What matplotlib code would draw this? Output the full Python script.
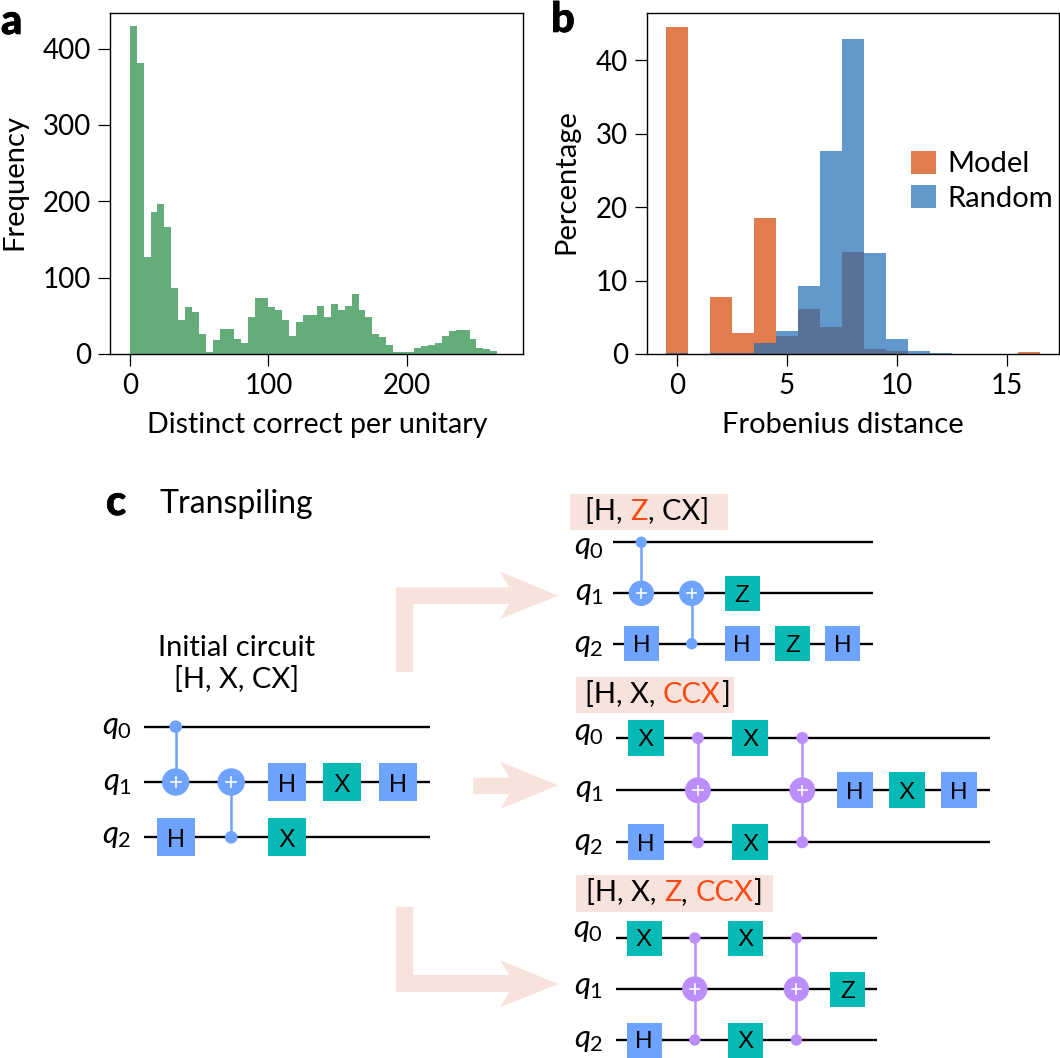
import matplotlib
matplotlib.use("Agg")
import matplotlib.pyplot as plt
import matplotlib.patheffects as pe
from matplotlib.font_manager import FontProperties
from matplotlib.patches import Rectangle, Circle, Polygon
import numpy as np

# ---------- data ----------
unitary_bin_edges = list(range(0, 270, 5))
unitary_counts = [429, 381, 127, 186, 197, 166, 87, 45, 61, 55, 26, 2, 18, 33, 33, 20, 14, 48,
                  73, 74, 61, 57, 45, 24, 42, 51, 51, 63, 48, 65, 57, 63, 78, 57, 49, 26, 22,
                  12, 2, 2, 2, 8, 10, 12, 14, 24, 30, 32, 32, 20, 8, 6, 4]
frob_bins = list(range(0, 17))
model_pct = [44.5, 0, 7.7, 2.9, 18.5, 2.5, 6.1, 3.7, 13.85, 0.65, 0.45, 0, 0, 0, 0, 0, 0.25]
random_pct = [0.2, 0, 0.2, 0.2, 1.45, 3.1, 9.2, 27.6, 42.9, 13.7, 2.1, 0.45, 0.2, 0, 0, 0, 0]
a_xticks = [0, 100, 200]
a_yticks = [0, 100, 200, 300, 400]
b_xticks = [0, 5, 10, 15]
b_yticks = [0, 10, 20, 30, 40]

# circuits: gates (label, column, qubit); controlled (column, target, [controls])
init_gates = [("H", 0, 2), ("H", 2, 1), ("X", 2, 2), ("X", 3, 1), ("H", 4, 1)]
init_ctrl = [(0, 1, [0]), (1, 1, [2])]
z_gates = [("H", 0, 2), ("Z", 2, 1), ("H", 2, 2), ("Z", 3, 2), ("H", 4, 2)]
z_ctrl = [(0, 1, [0]), (1, 1, [2])]
ccx_gates = [("X", 0, 0), ("H", 0, 2), ("X", 2, 0), ("X", 2, 2), ("H", 4, 1), ("X", 5, 1), ("H", 6, 1)]
ccx_ctrl = [(1, 1, [0, 2]), (3, 1, [0, 2])]
zccx_gates = [("X", 0, 0), ("H", 0, 2), ("X", 2, 0), ("X", 2, 2), ("Z", 4, 1)]
zccx_ctrl = [(1, 1, [0, 2]), (3, 1, [0, 2])]

# ---------- style ----------
W, H = 1060, 1058
FONT = "Lato"
plt.rcParams["font.family"] = [FONT, "DejaVu Sans"]
plt.rcParams["mathtext.fontset"] = "custom"
plt.rcParams["mathtext.it"] = "Lato:italic"
plt.rcParams["mathtext.rm"] = "Lato"
plt.rcParams["axes.linewidth"] = 1.0
FS = 21
TICK_FS = 20
GREEN, ORANGE, BLUE = "#64AD7B", "#D74500", "#1F6DB6"
HCOL, XCOL, PURPLE = "#6EA3FF", "#05BAB5", "#BB8EFC"
PEACH, RED = "#F8E3DC", "#FF4A14"

fig = plt.figure(figsize=(W / 100, H / 100), dpi=100)


def px_axes(l, t, r, b):
    return fig.add_axes([l / W, 1 - b / H, (r - l) / W, (b - t) / H])


def style(ax):
    ax.tick_params(length=8.5, width=0.9, labelsize=TICK_FS, pad=5)
    ax.margins(0)


# ---------- panel a ----------
axa = px_axes(110, 13, 523, 354)
axa.bar(unitary_bin_edges[:-1], unitary_counts, width=5, align="edge", color=GREEN)
axa.set_xlim((110 - 129.7) / 1.387, (523 - 129.7) / 1.387)
axa.set_ylim(0, (354 - 13) / 0.7635)
axa.set_xticks(a_xticks)
axa.set_yticks(a_yticks)
style(axa)

# ---------- panel b ----------
axb = px_axes(647, 13, 1059, 354)
edges = np.array(frob_bins) - 0.5
axb.bar(edges, model_pct, width=1, align="edge", color=ORANGE, alpha=0.7, label="Model")
axb.bar(edges, random_pct, width=1, align="edge", color=BLUE, alpha=0.7, label="Random")
axb.set_xlim((647 - 676.7) / 22.04, (1059 - 676.7) / 22.04)
axb.set_ylim(0, (354 - 13) / 7.34)
axb.set_xticks(b_xticks)
axb.set_yticks(b_yticks)
style(axb)
axb.legend(frameon=False, loc="upper left", bbox_to_anchor=(911 / W, 1 - 151 / H),
           bbox_transform=fig.transFigure, fontsize=FS, handlelength=0.857, handleheight=0.82,
           handletextpad=0.38, labelspacing=0.27, borderpad=0, borderaxespad=0)

# ---------- schematic layer (pixel coordinates of the figure) ----------
ov = fig.add_axes([0, 0, 1, 1])
ov.set_xlim(0, W)
ov.set_ylim(H, 0)
ov.axis("off")
ov.patch.set_alpha(0)


def t(x, y, s, **k):
    k.setdefault("fontsize", FS)
    k.setdefault("va", "center")
    return ov.text(x, y, s, **k)


t(14, 182, "Frequency", rotation=90, ha="center")
t(566, 182, "Percentage", rotation=90, ha="center")
t(317, 425, "Distinct correct per unitary", ha="center", fontsize=20.6)
t(843, 425, "Frobenius distance", ha="center")
for x, y, s in [(1, 22, "a"), (551, 20, "b"), (106, 503, "c")]:
    t(x, y, s, fontsize=30, fontweight="black", ha="left",
      path_effects=[pe.withStroke(linewidth=0.5, foreground="black")])
t(160, 504, "Transpiling", ha="left", fontsize=23)
t(237, 648, "Initial circuit", ha="center")
t(237, 679, "[H, X, CX]", ha="center")

# arrows
arrows = [
    [(396, 672), (396, 587.3), (509.3, 587.3), (500, 571.7), (558.3, 595.7), (500, 619), (509.3, 604), (413.3, 604), (413.3, 672)],
    [(473.3, 777.7), (509.3, 777.7), (500, 761.7), (558.3, 785.3), (500, 809), (509.3, 794), (473.3, 794)],
    [(396, 906.7), (413.3, 906.7), (413.3, 975), (509.3, 975), (500, 960), (558.3, 984), (500, 1007.3), (509.3, 992), (396, 992)],
]
for pts in arrows:
    ov.add_patch(Polygon(pts, closed=True, fc=PEACH, ec="none"))


def draw_circuit(gates, ctrl, x0, dx, wy, xa, xb, size, rt, rc, ctrl_col, label_x, label_off, fs_gate):
    gate_font = FontProperties(family="Liberation Sans", size=fs_gate)
    for i, y in enumerate(wy):
        ov.plot([xa, xb], [y, y], color="black", lw=1.7, solid_capstyle="butt", zorder=2)
        ov.text(label_x, y + label_off[i], f"$q_{i}$", fontsize=22.5, ha="right", va="center")
    for c, tq, cs in ctrl:
        x = x0 + c * dx
        ov.plot([x, x], [wy[min(cs + [tq])], wy[max(cs + [tq])]], color=ctrl_col, lw=1.8, zorder=3)
        ov.add_patch(Circle((x, wy[tq]), rt, fc=ctrl_col, ec="none", zorder=4))
        pl = rt * 0.36
        ov.plot([x - pl, x + pl], [wy[tq]] * 2, color="white", lw=1.2, zorder=5)
        ov.plot([x, x], [wy[tq] - pl, wy[tq] + pl], color="white", lw=1.2, zorder=5)
        for q in cs:
            ov.add_patch(Circle((x, wy[q]), rc, fc=ctrl_col, ec="none", zorder=4))
    for lab, c, q in gates:
        x = x0 + c * dx
        ov.add_patch(Rectangle((x - size / 2, wy[q] - size / 2), size, size,
                               fc=HCOL if lab == "H" else XCOL, ec="none", zorder=4))
        ov.text(x, wy[q], lab, fontproperties=gate_font, ha="center", va="center_baseline", zorder=6)


draw_circuit(init_gates, init_ctrl, 175.7, 55.5, [726.7, 782, 837.3], 144.3, 430, 37.7, 13.7, 6.3, HCOL, 131.7, [0, 1, -1], 18)
draw_circuit(z_gates, z_ctrl, 641.3, 50.4, [542.3, 593.3, 643.7], 613, 872.7, 35, 12.7, 5.7, HCOL, 603.7, [4.7, -0.7, 1.7], 17.5)
draw_circuit(ccx_gates, ccx_ctrl, 645.7, 52.2, [738, 790.3, 842.3], 616.3, 990, 36, 13, 6, PURPLE, 603.7, [-5, 0, 1], 17.5)
draw_circuit(zccx_gates, zccx_ctrl, 644, 50.8, [938, 989, 1040], 615.7, 877, 35, 12.7, 5.7, PURPLE, 603.3, [-8, -2, 0], 17.5)

# gate-set labels with highlighted parts
fig.canvas.draw()
rend = fig.canvas.get_renderer()


def text_w(s):
    a = ov.text(0, 0, s + "|", fontsize=FS)
    b = ov.text(0, 0, "|", fontsize=FS)
    w = a.get_window_extent(rend).width - b.get_window_extent(rend).width
    a.remove()
    b.remove()
    return w


def colored(x, y, chunks):
    prefix = ""
    for s, c in chunks:
        ov.text(x + text_w(prefix), y, s, color=c, fontsize=FS, ha="left", va="baseline")
        prefix += s


set_labels = [
    ((570, 494, 727.7, 530), 585, 520, [("[H, ", "black"), ("Z", RED), (", CX]", "black")]),
    ((576, 676.7, 734, 712.7), 585, 703, [("[H, X, ", "black"), ("CCX", RED), ("]", "black")]),
    ((576, 875, 773, 911.7), 586, 901, [("[H, X, ", "black"), ("Z", RED), (", ", "black"), ("CCX", RED), ("]", "black")]),
]
for (l, tp, r, b), x, y, chunks in set_labels:
    ov.add_patch(Rectangle((l, tp), r - l, b - tp, fc=PEACH, ec="none", zorder=0))
    colored(x, y, chunks)

fig.savefig("out.png", dpi=100)
